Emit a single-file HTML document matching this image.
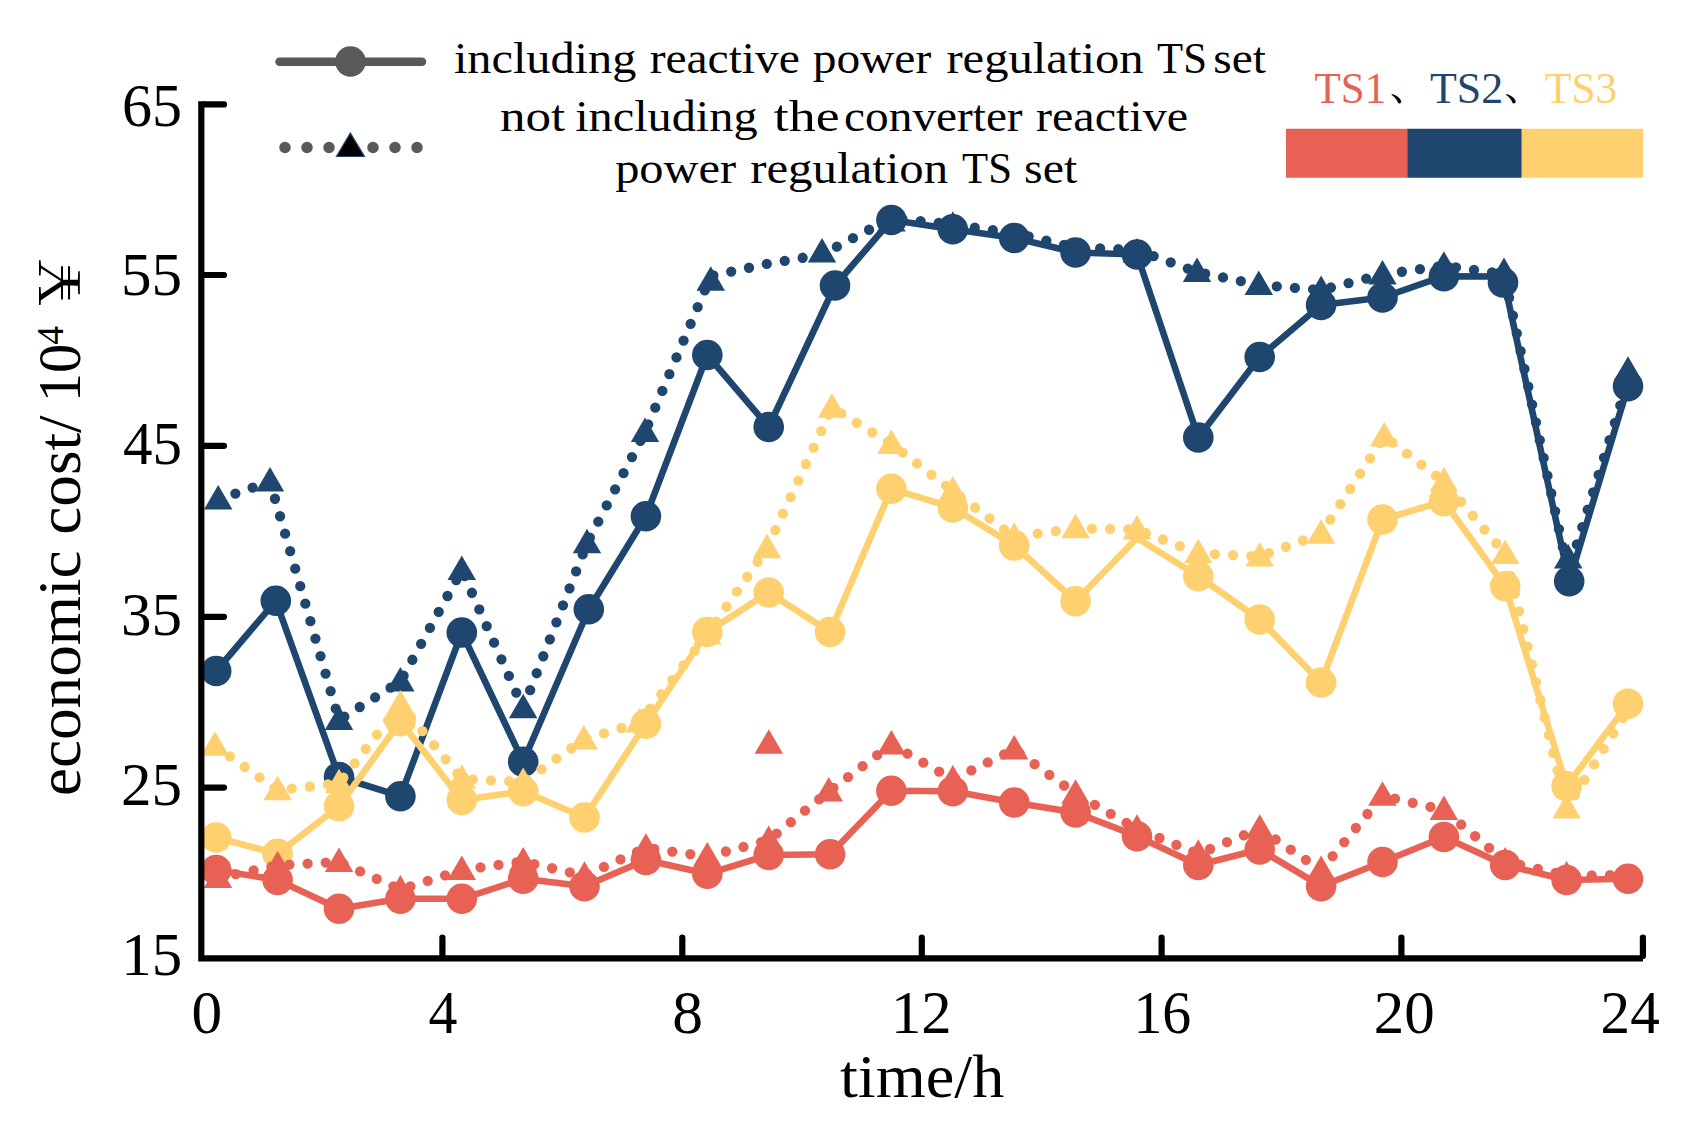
<!DOCTYPE html>
<html><head><meta charset="utf-8"><title>economic cost</title>
<style>
html,body{margin:0;padding:0;background:#fff;overflow:hidden;}
svg{display:block;}
text{font-family:"Liberation Serif","Noto Serif CJK SC",serif;fill:#000;}
</style></head>
<body>
<svg width="1688" height="1140" viewBox="0 0 1688 1140">
<rect width="1688" height="1140" fill="#fff"/>
<!-- legend markers -->
<line x1="279.5" y1="61.75" x2="422" y2="61.75" stroke="#595959" stroke-width="8.5" stroke-linecap="round"/>
<circle cx="350.5" cy="61.5" r="15.3" fill="#595959"/>
<line x1="285" y1="147.5" x2="420" y2="147.5" stroke="#595959" stroke-width="11.5" stroke-linecap="round" stroke-dasharray="0 22"/>
<polygon points="350.3,133 336.5,156.5 364.5,156.5" fill="#000" stroke="#1e466e" stroke-width="1.2"/>
<!-- colour key -->
<rect x="1286" y="128.75" width="121.25" height="49" fill="#e76254"/>
<rect x="1407.25" y="128.75" width="114.5" height="49" fill="#1e466e"/>
<rect x="1521.75" y="128.75" width="121.25" height="49" fill="#ffd06f"/>
<!-- data -->
<polyline fill="none" stroke="#1e466e" stroke-width="6.6" stroke-linejoin="round" stroke-linecap="round" points="216.2,671.0 275.8,600.8 339.0,777.0 400.4,796.2 461.8,632.5 523.2,761.8 588.8,609.2 645.9,516.2 707.3,355.0 768.7,427.0 835.0,285.5 891.4,220.0 952.8,229.2 1014.2,238.0 1075.6,252.5 1137.0,254.5 1198.3,437.5 1259.7,357.0 1321.1,305.0 1382.5,297.5 1443.9,276.2 1503.0,276.5 1569.2,581.2 1628.0,386.2"/>
<circle cx="216.2" cy="671.0" r="15.3" fill="#1e466e"/>
<circle cx="275.8" cy="600.8" r="15.3" fill="#1e466e"/>
<circle cx="339.0" cy="777.0" r="15.3" fill="#1e466e"/>
<circle cx="400.4" cy="796.2" r="15.3" fill="#1e466e"/>
<circle cx="461.8" cy="632.5" r="15.3" fill="#1e466e"/>
<circle cx="523.2" cy="761.8" r="15.3" fill="#1e466e"/>
<circle cx="588.8" cy="609.2" r="15.3" fill="#1e466e"/>
<circle cx="645.9" cy="516.2" r="15.3" fill="#1e466e"/>
<circle cx="707.3" cy="355.0" r="15.3" fill="#1e466e"/>
<circle cx="768.7" cy="427.0" r="15.3" fill="#1e466e"/>
<circle cx="835.0" cy="285.5" r="15.3" fill="#1e466e"/>
<circle cx="891.4" cy="220.0" r="15.3" fill="#1e466e"/>
<circle cx="952.8" cy="229.2" r="15.3" fill="#1e466e"/>
<circle cx="1014.2" cy="238.0" r="15.3" fill="#1e466e"/>
<circle cx="1075.6" cy="252.5" r="15.3" fill="#1e466e"/>
<circle cx="1137.0" cy="254.5" r="15.3" fill="#1e466e"/>
<circle cx="1198.3" cy="437.5" r="15.3" fill="#1e466e"/>
<circle cx="1259.7" cy="357.0" r="15.3" fill="#1e466e"/>
<circle cx="1321.1" cy="305.0" r="15.3" fill="#1e466e"/>
<circle cx="1382.5" cy="297.5" r="15.3" fill="#1e466e"/>
<circle cx="1443.9" cy="276.2" r="15.3" fill="#1e466e"/>
<circle cx="1503.0" cy="282.5" r="15.3" fill="#1e466e"/>
<circle cx="1569.2" cy="581.2" r="15.3" fill="#1e466e"/>
<circle cx="1628.0" cy="386.2" r="15.3" fill="#1e466e"/>
<polyline fill="none" stroke="#1e466e" stroke-width="10.3" stroke-linejoin="round" stroke-linecap="round" stroke-dasharray="0 18.2" points="218.2,499.5 270.0,481.5 339.0,720.0 400.4,681.5 461.8,570.0 523.2,708.2 587.0,543.2 645.0,432.0 710.8,276.0 768.7,263.5 822.0,254.5 891.4,218.0 952.8,224.5 1014.2,233.0 1075.6,247.5 1137.0,250.0 1197.0,272.0 1258.8,285.0 1321.1,290.0 1382.5,274.5 1443.9,265.8 1504.0,274.0 1568.2,572.0 1628.0,381.0"/>
<polygon fill="#1e466e" points="218.2,485.0 204.0,509.5 232.5,509.5"/>
<polygon fill="#1e466e" points="270.0,467.0 255.8,491.5 284.2,491.5"/>
<polygon fill="#1e466e" points="339.0,705.5 324.8,730.0 353.3,730.0"/>
<polygon fill="#1e466e" points="400.4,667.0 386.1,691.5 414.6,691.5"/>
<polygon fill="#1e466e" points="461.8,555.5 447.5,580.0 476.0,580.0"/>
<polygon fill="#1e466e" points="523.2,693.8 508.9,718.2 537.4,718.2"/>
<polygon fill="#1e466e" points="587.0,528.8 572.8,553.2 601.2,553.2"/>
<polygon fill="#1e466e" points="645.0,417.5 630.8,442.0 659.2,442.0"/>
<polygon fill="#1e466e" points="710.8,266.2 696.5,290.8 725.0,290.8"/>
<polygon fill="#1e466e" points="822.0,238.0 807.8,262.5 836.2,262.5"/>
<polygon fill="#1e466e" points="891.4,207.0 877.2,231.5 905.7,231.5"/>
<polygon fill="#1e466e" points="952.8,211.2 938.6,235.8 967.1,235.8"/>
<polygon fill="#1e466e" points="1137.0,238.0 1122.7,262.5 1151.2,262.5"/>
<polygon fill="#1e466e" points="1197.0,257.5 1182.8,282.0 1211.2,282.0"/>
<polygon fill="#1e466e" points="1258.8,270.5 1244.5,295.0 1273.0,295.0"/>
<polygon fill="#1e466e" points="1321.1,275.5 1306.8,300.0 1335.3,300.0"/>
<polygon fill="#1e466e" points="1382.5,260.0 1368.2,284.5 1396.7,284.5"/>
<polygon fill="#1e466e" points="1443.9,251.2 1429.6,275.8 1458.1,275.8"/>
<polygon fill="#1e466e" points="1504.0,257.5 1489.8,282.0 1518.2,282.0"/>
<polygon fill="#1e466e" points="1568.2,544.0 1554.0,568.5 1582.5,568.5"/>
<polygon fill="#1e466e" points="1628.0,356.2 1613.7,380.8 1642.2,380.8"/>
<polyline fill="none" stroke="#ffd06f" stroke-width="6.6" stroke-linejoin="round" stroke-linecap="round" points="216.2,837.5 277.6,853.8 339.0,806.2 400.4,721.2 461.8,800.0 523.2,791.2 584.5,817.5 645.9,723.8 707.3,632.0 768.7,592.5 830.1,632.0 891.4,488.8 952.8,507.5 1014.2,545.5 1075.6,601.2 1137.0,538.0 1198.3,576.2 1259.7,619.5 1321.1,682.5 1382.5,519.5 1443.9,501.2 1505.2,586.2 1566.6,786.2 1628.0,703.8"/>
<circle cx="216.2" cy="837.5" r="15.3" fill="#ffd06f"/>
<circle cx="277.6" cy="853.8" r="15.3" fill="#ffd06f"/>
<circle cx="339.0" cy="806.2" r="15.3" fill="#ffd06f"/>
<circle cx="400.4" cy="721.2" r="15.3" fill="#ffd06f"/>
<circle cx="461.8" cy="800.0" r="15.3" fill="#ffd06f"/>
<circle cx="523.2" cy="791.2" r="15.3" fill="#ffd06f"/>
<circle cx="584.5" cy="817.5" r="15.3" fill="#ffd06f"/>
<circle cx="645.9" cy="723.8" r="15.3" fill="#ffd06f"/>
<circle cx="707.3" cy="632.0" r="15.3" fill="#ffd06f"/>
<circle cx="768.7" cy="592.5" r="15.3" fill="#ffd06f"/>
<circle cx="830.1" cy="632.0" r="15.3" fill="#ffd06f"/>
<circle cx="891.4" cy="488.8" r="15.3" fill="#ffd06f"/>
<circle cx="952.8" cy="507.5" r="15.3" fill="#ffd06f"/>
<circle cx="1014.2" cy="545.5" r="15.3" fill="#ffd06f"/>
<circle cx="1075.6" cy="601.2" r="15.3" fill="#ffd06f"/>
<circle cx="1198.3" cy="576.2" r="15.3" fill="#ffd06f"/>
<circle cx="1259.7" cy="619.5" r="15.3" fill="#ffd06f"/>
<circle cx="1321.1" cy="682.5" r="15.3" fill="#ffd06f"/>
<circle cx="1382.5" cy="519.5" r="15.3" fill="#ffd06f"/>
<circle cx="1443.9" cy="501.2" r="15.3" fill="#ffd06f"/>
<circle cx="1505.2" cy="586.2" r="15.3" fill="#ffd06f"/>
<circle cx="1566.6" cy="786.2" r="15.3" fill="#ffd06f"/>
<circle cx="1628.0" cy="703.8" r="15.3" fill="#ffd06f"/>
<polyline fill="none" stroke="#ffd06f" stroke-width="10.3" stroke-linejoin="round" stroke-linecap="round" stroke-dasharray="0 18.2" points="215.0,745.8 277.6,790.2 339.0,783.2 400.4,704.5 461.8,778.8 523.2,782.0 583.8,739.5 639.5,722.5 707.3,634.5 767.0,548.2 832.0,407.8 891.4,444.0 952.8,490.8 1014.2,537.0 1075.6,528.2 1137.0,529.5 1198.3,553.2 1259.7,556.5 1321.1,533.8 1384.2,436.5 1443.9,481.5 1505.2,554.0 1566.6,808.5 1628.0,710.0"/>
<polygon fill="#ffd06f" points="215.0,731.2 200.8,755.8 229.2,755.8"/>
<polygon fill="#ffd06f" points="277.6,775.8 263.4,800.2 291.9,800.2"/>
<polygon fill="#ffd06f" points="339.0,768.8 324.8,793.2 353.3,793.2"/>
<polygon fill="#ffd06f" points="400.4,690.0 386.1,714.5 414.6,714.5"/>
<polygon fill="#ffd06f" points="461.8,764.2 447.5,788.8 476.0,788.8"/>
<polygon fill="#ffd06f" points="523.2,767.5 508.9,792.0 537.4,792.0"/>
<polygon fill="#ffd06f" points="583.8,725.0 569.5,749.5 598.0,749.5"/>
<polygon fill="#ffd06f" points="639.5,708.0 625.2,732.5 653.8,732.5"/>
<polygon fill="#ffd06f" points="707.3,620.0 693.0,644.5 721.5,644.5"/>
<polygon fill="#ffd06f" points="767.0,533.8 752.8,558.2 781.2,558.2"/>
<polygon fill="#ffd06f" points="832.0,393.2 817.8,417.8 846.2,417.8"/>
<polygon fill="#ffd06f" points="891.4,429.5 877.2,454.0 905.7,454.0"/>
<polygon fill="#ffd06f" points="952.8,476.2 938.6,500.8 967.1,500.8"/>
<polygon fill="#ffd06f" points="1014.2,522.5 999.9,547.0 1028.4,547.0"/>
<polygon fill="#ffd06f" points="1075.6,513.8 1061.3,538.2 1089.8,538.2"/>
<polygon fill="#ffd06f" points="1137.0,515.0 1122.7,539.5 1151.2,539.5"/>
<polygon fill="#ffd06f" points="1198.3,538.8 1184.1,563.2 1212.6,563.2"/>
<polygon fill="#ffd06f" points="1259.7,542.0 1245.5,566.5 1274.0,566.5"/>
<polygon fill="#ffd06f" points="1321.1,519.2 1306.8,543.8 1335.3,543.8"/>
<polygon fill="#ffd06f" points="1384.2,422.0 1370.0,446.5 1398.5,446.5"/>
<polygon fill="#ffd06f" points="1443.9,467.0 1429.6,491.5 1458.1,491.5"/>
<polygon fill="#ffd06f" points="1505.2,539.5 1491.0,564.0 1519.5,564.0"/>
<polygon fill="#ffd06f" points="1566.6,794.0 1552.4,818.5 1580.9,818.5"/>
<polyline fill="none" stroke="#e76254" stroke-width="6.6" stroke-linejoin="round" stroke-linecap="round" points="216.2,870.0 277.6,880.0 339.0,908.8 400.4,898.8 461.8,898.8 523.2,878.8 584.5,886.2 645.9,860.0 707.3,873.8 768.7,855.0 830.1,854.2 891.4,790.8 952.8,791.2 1014.2,802.5 1075.6,812.5 1137.0,836.2 1198.3,865.0 1259.7,849.5 1321.1,886.2 1382.5,862.0 1443.9,837.0 1505.2,865.0 1566.6,880.0 1628.0,878.8"/>
<circle cx="216.2" cy="870.0" r="15.3" fill="#e76254"/>
<circle cx="277.6" cy="880.0" r="15.3" fill="#e76254"/>
<circle cx="339.0" cy="908.8" r="15.3" fill="#e76254"/>
<circle cx="400.4" cy="898.8" r="15.3" fill="#e76254"/>
<circle cx="461.8" cy="898.8" r="15.3" fill="#e76254"/>
<circle cx="523.2" cy="878.8" r="15.3" fill="#e76254"/>
<circle cx="584.5" cy="886.2" r="15.3" fill="#e76254"/>
<circle cx="645.9" cy="860.0" r="15.3" fill="#e76254"/>
<circle cx="707.3" cy="873.8" r="15.3" fill="#e76254"/>
<circle cx="768.7" cy="855.0" r="15.3" fill="#e76254"/>
<circle cx="830.1" cy="854.2" r="15.3" fill="#e76254"/>
<circle cx="891.4" cy="790.8" r="15.3" fill="#e76254"/>
<circle cx="952.8" cy="791.2" r="15.3" fill="#e76254"/>
<circle cx="1014.2" cy="802.5" r="15.3" fill="#e76254"/>
<circle cx="1075.6" cy="812.5" r="15.3" fill="#e76254"/>
<circle cx="1137.0" cy="836.2" r="15.3" fill="#e76254"/>
<circle cx="1198.3" cy="865.0" r="15.3" fill="#e76254"/>
<circle cx="1259.7" cy="849.5" r="15.3" fill="#e76254"/>
<circle cx="1321.1" cy="886.2" r="15.3" fill="#e76254"/>
<circle cx="1382.5" cy="862.0" r="15.3" fill="#e76254"/>
<circle cx="1443.9" cy="837.0" r="15.3" fill="#e76254"/>
<circle cx="1505.2" cy="865.0" r="15.3" fill="#e76254"/>
<circle cx="1566.6" cy="880.0" r="15.3" fill="#e76254"/>
<circle cx="1628.0" cy="878.8" r="15.3" fill="#e76254"/>
<polyline fill="none" stroke="#e76254" stroke-width="10.3" stroke-linejoin="round" stroke-linecap="round" stroke-dasharray="0 18.2" points="218.0,878.0 277.6,865.2 339.0,862.0 400.4,889.5 461.8,870.0 523.2,861.5 584.5,875.8 645.9,847.8 707.3,856.5 768.7,840.0 828.8,791.5 891.4,744.5 952.8,779.5 1014.2,749.5 1075.6,793.8 1137.0,828.8 1198.3,853.8 1259.7,828.8 1321.1,870.0 1382.5,795.8 1443.9,810.0 1505.2,861.5 1566.6,875.5 1628.0,875.0"/>
<polygon fill="#e76254" points="218.0,863.5 203.8,888.0 232.2,888.0"/>
<polygon fill="#e76254" points="277.6,850.8 263.4,875.2 291.9,875.2"/>
<polygon fill="#e76254" points="339.0,847.5 324.8,872.0 353.3,872.0"/>
<polygon fill="#e76254" points="400.4,875.0 386.1,899.5 414.6,899.5"/>
<polygon fill="#e76254" points="461.8,855.5 447.5,880.0 476.0,880.0"/>
<polygon fill="#e76254" points="523.2,847.0 508.9,871.5 537.4,871.5"/>
<polygon fill="#e76254" points="584.5,861.2 570.3,885.8 598.8,885.8"/>
<polygon fill="#e76254" points="645.9,833.2 631.7,857.8 660.2,857.8"/>
<polygon fill="#e76254" points="707.3,842.0 693.0,866.5 721.5,866.5"/>
<polygon fill="#e76254" points="768.7,825.5 754.4,850.0 782.9,850.0"/>
<polygon fill="#e76254" points="828.8,777.0 814.5,801.5 843.0,801.5"/>
<polygon fill="#e76254" points="891.4,730.0 877.2,754.5 905.7,754.5"/>
<polygon fill="#e76254" points="952.8,765.0 938.6,789.5 967.1,789.5"/>
<polygon fill="#e76254" points="1014.2,735.0 999.9,759.5 1028.4,759.5"/>
<polygon fill="#e76254" points="1075.6,779.2 1061.3,803.8 1089.8,803.8"/>
<polygon fill="#e76254" points="1137.0,814.2 1122.7,838.8 1151.2,838.8"/>
<polygon fill="#e76254" points="1198.3,839.2 1184.1,863.8 1212.6,863.8"/>
<polygon fill="#e76254" points="1259.7,814.2 1245.5,838.8 1274.0,838.8"/>
<polygon fill="#e76254" points="1321.1,855.5 1306.8,880.0 1335.3,880.0"/>
<polygon fill="#e76254" points="1382.5,781.2 1368.2,805.8 1396.7,805.8"/>
<polygon fill="#e76254" points="1443.9,795.5 1429.6,820.0 1458.1,820.0"/>
<polygon fill="#e76254" points="1505.2,847.0 1491.0,871.5 1519.5,871.5"/>
<polygon fill="#e76254" points="1566.6,861.0 1552.4,885.5 1580.9,885.5"/>
<polygon fill="#e76254" points="768.8,729.2 754.5,753.8 783.0,753.8"/>
<!-- axes -->
<path d="M201.3,101.3 V958.4 H1643.0" fill="none" stroke="#000" stroke-width="6.2" stroke-linejoin="miter" stroke-linecap="butt"/>
<line x1="203.8" y1="104.4" x2="224.0" y2="104.4" stroke="#000" stroke-width="6.2" stroke-linecap="round"/>
<line x1="203.8" y1="275.0" x2="224.0" y2="275.0" stroke="#000" stroke-width="6.2" stroke-linecap="round"/>
<line x1="203.8" y1="445.8" x2="224.0" y2="445.8" stroke="#000" stroke-width="6.2" stroke-linecap="round"/>
<line x1="203.8" y1="616.8" x2="224.0" y2="616.8" stroke="#000" stroke-width="6.2" stroke-linecap="round"/>
<line x1="203.8" y1="787.6" x2="224.0" y2="787.6" stroke="#000" stroke-width="6.2" stroke-linecap="round"/>
<line x1="442.4" y1="955.9" x2="442.4" y2="937.5" stroke="#000" stroke-width="6.2" stroke-linecap="round"/>
<line x1="682.3" y1="955.9" x2="682.3" y2="937.5" stroke="#000" stroke-width="6.2" stroke-linecap="round"/>
<line x1="921.8" y1="955.9" x2="921.8" y2="937.5" stroke="#000" stroke-width="6.2" stroke-linecap="round"/>
<line x1="1161.6" y1="955.9" x2="1161.6" y2="937.5" stroke="#000" stroke-width="6.2" stroke-linecap="round"/>
<line x1="1401.4" y1="955.9" x2="1401.4" y2="937.5" stroke="#000" stroke-width="6.2" stroke-linecap="round"/>
<line x1="1642.9" y1="955.9" x2="1642.9" y2="937.5" stroke="#000" stroke-width="6.2" stroke-linecap="round"/>
<!-- texts -->
<text x="122.01" y="126.30" font-size="60.5" textLength="60.07" lengthAdjust="spacingAndGlyphs">65</text>
<text x="120.97" y="295.30" font-size="60.5" textLength="61.16" lengthAdjust="spacingAndGlyphs">55</text>
<text x="123.02" y="464.40" font-size="60.5" textLength="59.01" lengthAdjust="spacingAndGlyphs">45</text>
<text x="120.97" y="635.30" font-size="60.5" textLength="61.16" lengthAdjust="spacingAndGlyphs">35</text>
<text x="120.97" y="804.60" font-size="60.5" textLength="61.16" lengthAdjust="spacingAndGlyphs">25</text>
<text x="121.22" y="974.80" font-size="60.5" textLength="60.90" lengthAdjust="spacingAndGlyphs">15</text>
<text x="191.57" y="1033.00" font-size="60.5" textLength="30.72" lengthAdjust="spacingAndGlyphs">0</text>
<text x="428.54" y="1033.00" font-size="60.5" textLength="28.90" lengthAdjust="spacingAndGlyphs">4</text>
<text x="672.37" y="1033.00" font-size="60.5" textLength="30.72" lengthAdjust="spacingAndGlyphs">8</text>
<text x="890.98" y="1033.00" font-size="60.5" textLength="60.73" lengthAdjust="spacingAndGlyphs">12</text>
<text x="1133.42" y="1033.00" font-size="60.5" textLength="57.81" lengthAdjust="spacingAndGlyphs">16</text>
<text x="1373.72" y="1033.00" font-size="60.5" textLength="61.05" lengthAdjust="spacingAndGlyphs">20</text>
<text x="1600.57" y="1033.00" font-size="60.5" textLength="59.17" lengthAdjust="spacingAndGlyphs">24</text>
<text x="453.92" y="73.00" font-size="44.8" textLength="182.39" lengthAdjust="spacingAndGlyphs">including</text>
<text x="649.69" y="73.00" font-size="44.8" textLength="150.16" lengthAdjust="spacingAndGlyphs">reactive</text>
<text x="812.69" y="73.00" font-size="44.8" textLength="118.51" lengthAdjust="spacingAndGlyphs">power</text>
<text x="946.41" y="73.00" font-size="44.8" textLength="197.26" lengthAdjust="spacingAndGlyphs">regulation</text>
<text x="1157.05" y="73.00" font-size="44.8" textLength="49.83" lengthAdjust="spacingAndGlyphs">TS</text>
<text x="1213.39" y="73.00" font-size="44.8" textLength="52.62" lengthAdjust="spacingAndGlyphs">set</text>
<text x="500.11" y="131.25" font-size="44.8" textLength="65.17" lengthAdjust="spacingAndGlyphs">not</text>
<text x="575.17" y="131.25" font-size="44.8" textLength="182.39" lengthAdjust="spacingAndGlyphs">including</text>
<text x="773.75" y="131.25" font-size="44.8" textLength="65.84" lengthAdjust="spacingAndGlyphs">the</text>
<text x="844.14" y="131.25" font-size="44.8" textLength="178.51" lengthAdjust="spacingAndGlyphs">converter</text>
<text x="1035.93" y="131.25" font-size="44.8" textLength="152.20" lengthAdjust="spacingAndGlyphs">reactive</text>
<text x="615.17" y="183.25" font-size="44.8" textLength="121.03" lengthAdjust="spacingAndGlyphs">power</text>
<text x="750.16" y="183.25" font-size="44.8" textLength="198.02" lengthAdjust="spacingAndGlyphs">regulation</text>
<text x="962.05" y="183.25" font-size="44.8" textLength="49.83" lengthAdjust="spacingAndGlyphs">TS</text>
<text x="1024.11" y="183.25" font-size="44.8" textLength="53.14" lengthAdjust="spacingAndGlyphs">set</text>
<text x="1314.54" y="102.50" font-size="44.5" textLength="71.58" lengthAdjust="spacingAndGlyphs" style="fill:#e76254;">TS1</text>
<text x="1430.01" y="102.50" font-size="44.5" textLength="73.14" lengthAdjust="spacingAndGlyphs" style="fill:#1e466e;">TS2</text>
<text x="1545.03" y="102.50" font-size="44.5" textLength="72.13" lengthAdjust="spacingAndGlyphs" style="fill:#ffd06f;">TS3</text>
<text x="1390.00" y="100.00" font-size="38" textLength="38.02" lengthAdjust="spacingAndGlyphs" style="font-family:'Noto Serif CJK SC','Liberation Serif',serif;">、</text>
<text x="1504.50" y="100.00" font-size="38" textLength="38.02" lengthAdjust="spacingAndGlyphs" style="font-family:'Noto Serif CJK SC','Liberation Serif',serif;">、</text>
<text x="839.95" y="1096.50" font-size="61.5" textLength="164.41" lengthAdjust="spacingAndGlyphs">time/h</text>
<g transform="translate(79.5,794) rotate(-90)">
<text x="-2.07" y="0.00" font-size="61" textLength="380.65" lengthAdjust="spacingAndGlyphs">economic cost/</text>
<text x="391.73" y="0.00" font-size="61.5" textLength="58.65" lengthAdjust="spacingAndGlyphs">10</text>
<text x="449.28" y="-16.30" font-size="37" textLength="18.83" lengthAdjust="spacingAndGlyphs">4</text>
<text x="476.70" y="0.00" font-size="54" textLength="69.00" lengthAdjust="spacingAndGlyphs" style="font-family:'Noto Serif CJK SC','Liberation Serif',serif;">￥</text>
</g>
</svg>
</body></html>
